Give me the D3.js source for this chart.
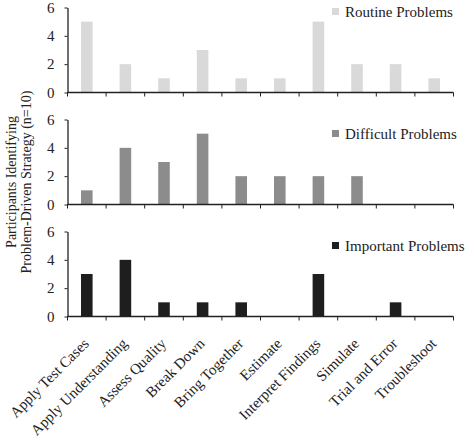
<!DOCTYPE html>
<html>
<head>
<meta charset="utf-8">
<script src="https://cdn.jsdelivr.net/npm/d3@7"></script>
<style>
  body { margin: 0; background: #fff; }
  text { font-family: "Liberation Serif", "Times New Roman", serif; fill: #222; }
</style>
</head>
<body>
<script>
// data
const categories = ["Apply Test Cases", "Apply Understanding", "Assess Quality", "Break Down",
    "Bring Together", "Estimate", "Interpret Findings", "Simulate", "Trial and Error", "Troubleshoot"];
const routine = [5, 2, 1, 3, 1, 1, 5, 2, 2, 1];
const difficult = [1, 4, 3, 5, 2, 2, 2, 2, 0, 0];
const important = [3, 4, 1, 1, 1, 0, 3, 0, 1, 0];
const yTicks = [0, 2, 4, 6];

const panels = [
    { name: "Routine Problems", values: routine, color: "#d9d9d9", top: 7.5, legendDy: 0.5 },
    { name: "Difficult Problems", values: difficult, color: "#8c8c8c", top: 119.5, legendDy: 10.5 },
    { name: "Important Problems", values: important, color: "#1e1e1e", top: 231.5, legendDy: 10.5 }
];

const width = 474, height = 443;
const left = 67.5, right = 453.5, panelH = 85;

const svg = d3.select("body")
    .append("svg")
    .attr("width", width)
    .attr("height", height);

const x = d3.scaleBand()
    .domain(categories)
    .range([left, right])
    .paddingInner(0.7)
    .paddingOuter(0.35);

// tick marks sit on the band boundaries
const xEdges = d3.range(categories.length + 1).map(i => left + i * (right - left) / categories.length);

panels.forEach((p, pi) => {
    const y = d3.scaleLinear()
        .domain([0, 6])
        .range([p.top + panelH, p.top]);

    const g = svg.append("g");

    // bars
    g.selectAll(".bar")
        .data(p.values)
        .enter()
        .append("rect")
        .attr("x", (d, i) => x(categories[i]))
        .attr("y", d => y(d))
        .attr("width", x.bandwidth())
        .attr("height", d => y(0) - y(d))
        .attr("fill", p.color);

    // y axis
    const yAxis = g.append("g")
        .attr("transform", `translate(${left},0)`)
        .call(d3.axisLeft(y).tickValues(yTicks).tickFormat(d3.format("d"))
            .tickSize(3).tickPadding(10).tickSizeOuter(0));
    yAxis.attr("font-family", null);
    yAxis.select(".domain").attr("stroke", "#222").attr("stroke-width", 1.3);
    yAxis.selectAll(".tick line").attr("stroke", "#222");
    yAxis.selectAll("text")
        .style("font-size", "15px")
        .style("font-family", "Liberation Serif");

    // x axis line with ticks on band edges
    g.append("line")
        .attr("x1", left).attr("x2", right)
        .attr("y1", y(0)).attr("y2", y(0))
        .attr("stroke", "#222").attr("stroke-width", 1.3);
    g.selectAll(".xtick")
        .data(xEdges)
        .enter()
        .append("line")
        .attr("x1", d => d).attr("x2", d => d)
        .attr("y1", y(0)).attr("y2", y(0) + 4)
        .attr("stroke", "#222");

    // legend
    const lg = g.append("g")
        .attr("transform", `translate(332,${p.top + p.legendDy})`);
    lg.append("rect")
        .attr("width", 7).attr("height", 7)
        .attr("fill", p.color);
    lg.append("text")
        .attr("x", 13)
        .attr("y", 9)
        .style("font-size", "15px")
        .text(p.name);

    // category labels only under the last panel
    if (pi === panels.length - 1) {
        g.selectAll(".xlabel")
            .data(categories)
            .enter()
            .append("text")
            .attr("transform", d => `translate(${x(d) + x.bandwidth() / 2 + 3},${y(0) + 28}) rotate(-45)`)
            .attr("text-anchor", "end")
            .style("font-size", "15px")
            .text(d => d);
    }
});

// y axis title, two lines
const title = svg.append("text")
    .attr("transform", "translate(16,182) rotate(-90)")
    .attr("text-anchor", "middle")
    .style("font-size", "14px");
title.append("tspan").attr("x", 0).attr("dy", 0).text("Participants Identifying");
title.append("tspan").attr("x", 0).attr("dy", 15).text("Problem-Driven Strategy (n=10)");
</script>
</body>
</html>
